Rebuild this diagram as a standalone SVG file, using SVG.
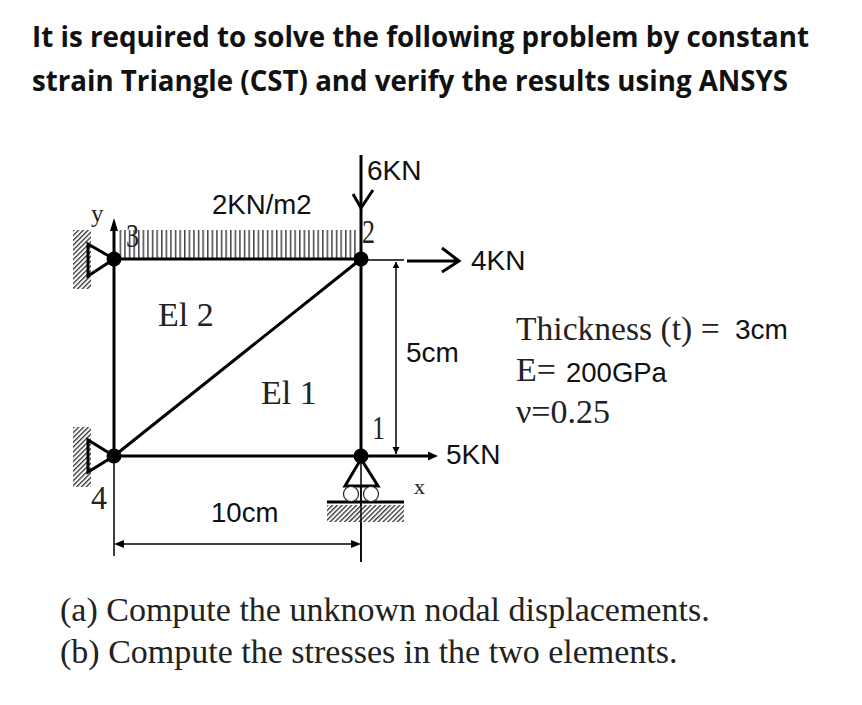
<svg xmlns="http://www.w3.org/2000/svg" width="862" height="705" viewBox="0 0 862 705">
<style>
.h{font-family:"Open Sans","Noto Sans",sans-serif;font-weight:700;font-size:29px;fill:#111}
.a{font-family:"Liberation Sans",Arial,sans-serif;fill:#111}
.t{font-family:"Liberation Serif","Times New Roman",serif;fill:#222}
.m{fill:none;stroke:#000;stroke-width:3}
.n{fill:none;stroke:#000;stroke-width:1.5}
.s{fill:none;stroke:#000;stroke-width:3}
</style>
<defs>
<pattern id="d" width="3.4" height="3.4" patternUnits="userSpaceOnUse" patternTransform="rotate(45)"><rect width="3.4" height="3.4" fill="#fff"/><rect width="1.3" height="3.4" fill="#333"/></pattern>
<pattern id="v" width="4.6" height="10" patternUnits="userSpaceOnUse"><rect x="0" width="1.5" height="10" fill="#444"/></pattern>
</defs>
<rect width="862" height="705" fill="#fff"/>
<g id="title">
<text class="h" x="32" y="47" textLength="777" lengthAdjust="spacingAndGlyphs">It is required to solve the following problem by constant</text>
<text class="h" x="32" y="91" textLength="756" lengthAdjust="spacingAndGlyphs">strain Triangle (CST) and verify the results using ANSYS</text>
</g>
<g id="load-hatch"><rect x="118" y="230" width="239" height="29" fill="url(#v)"/></g>
<g id="connectors">
<path class="m" d="M114 259H361V456H114ZM114 456L361 259"/>
<path class="m" d="M114 231V259" />
<path d="M114 218L110 231H118Z" fill="#000"/>
<path class="n" d="M114 456V556M361 456V562"/>
<path class="s" d="M361 155V259"/>
<path class="s" d="M353 194L361 208L373 190"/>
<path class="n" d="M361 260H404"/>
<path class="s" d="M407 261H458M442 248L459 261L442 272"/>
<path class="s" d="M361 456H430"/>
<path d="M438 456L428 451.500V460.500Z" fill="#000"/>
<path class="n" d="M396 262V454"/>
<path d="M396 262L392.500 268H399.500Z M396 454L392.500 447H399.500Z" fill="#000"/>
<path class="n" d="M116 544H359"/>
<path d="M114 544L124 540V548Z M361 544L351 540V548Z" fill="#000"/>
</g>
<g id="support-3">
<rect x="73" y="230" width="18" height="59" fill="url(#d)"/>
<path class="s" d="M88 244V276L114 259Z"/>
<circle cx="114" cy="259" r="7.500" fill="#000"/>
</g>
<g id="support-4">
<rect x="73" y="427" width="18" height="60" fill="url(#d)"/>
<path class="s" d="M88 440V472L114 456Z"/>
<circle cx="114" cy="456" r="7.500" fill="#000"/>
</g>
<g id="node-2"><circle cx="361" cy="259" r="7.500" fill="#000"/></g>
<g id="support-1">
<rect x="327" y="505" width="77" height="17" fill="url(#d)"/>
<path d="M327 502H404" stroke="#000" stroke-width="3"/>
<path class="s" d="M361 459L345 486H378Z"/>
<circle cx="351" cy="494" r="7.500" fill="#fff" stroke="#222" stroke-width="1.200"/>
<circle cx="371" cy="494" r="7.500" fill="#fff" stroke="#222" stroke-width="1.200"/>
<path class="n" d="M361 486V562"/>
<circle cx="361" cy="456" r="7.500" fill="#000"/>
</g>
<g id="labels">
<text class="t" x="91" y="222" font-size="25">y</text>
<text class="t" x="126" y="247" font-size="34" textLength="13" lengthAdjust="spacingAndGlyphs">3</text>
<text class="t" x="362" y="243" font-size="34" textLength="13" lengthAdjust="spacingAndGlyphs">2</text>
<text class="t" x="372" y="439" font-size="34" textLength="13" lengthAdjust="spacingAndGlyphs">1</text>
<text class="t" x="91" y="509" font-size="34" textLength="16" lengthAdjust="spacingAndGlyphs">4</text>
<text class="t" x="414" y="494" font-size="22">x</text>
<text class="a" x="212" y="214" font-size="27.600">2KN/m2</text>
<text class="a" x="367" y="180" font-size="28">6KN</text>
<text class="a" x="471" y="270" font-size="28">4KN</text>
<text class="a" x="446" y="464" font-size="28">5KN</text>
<text class="a" x="406" y="362" font-size="28">5cm</text>
<text class="a" x="211" y="522" font-size="27.600">10cm</text>
<text class="t" x="158" y="326" font-size="34">El 2</text>
<text class="t" x="261" y="404" font-size="34">El 1</text>
<text class="t" x="516" y="340" font-size="33.600">Thickness (t) =</text>
<text class="a" x="735" y="339" font-size="28">3cm</text>
<text class="t" x="516" y="381" font-size="34">E=</text>
<text class="a" x="566" y="382" font-size="27.500">200GPa</text>
<text class="t" x="516" y="423" font-size="34">ν=0.25</text>
<text class="t" x="60" y="621" font-size="34">(a) Compute the unknown nodal displacements.</text>
<text class="t" x="60" y="663" font-size="34">(b) Compute the stresses in the two elements.</text>
</g>
</svg>
